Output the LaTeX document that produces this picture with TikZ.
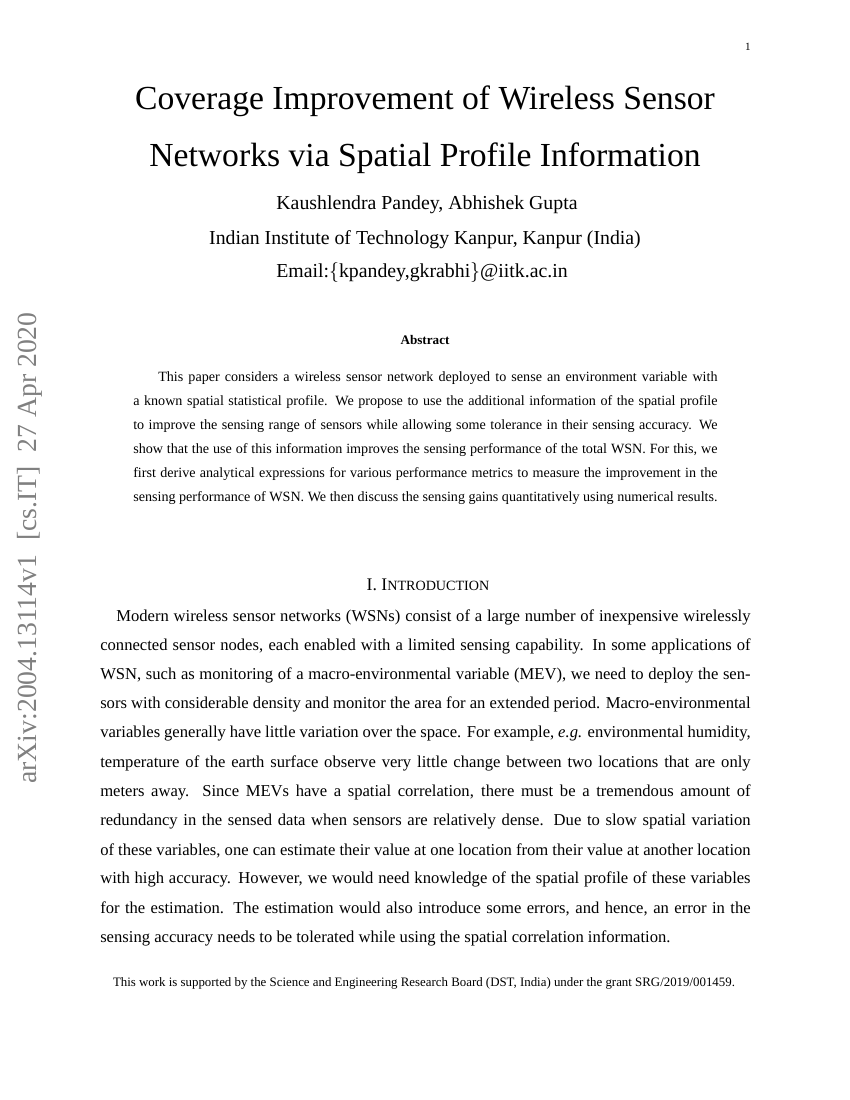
\documentclass[tikz,border=0pt]{standalone}
\usepackage{fontspec}
\setmainfont{Liberation Serif}
\newcommand{\absline}[1]{\makebox[5.84in][s]{#1}}
\newcommand{\bodline}[1]{\makebox[6.5in][s]{#1}}
\begin{document}
\begin{tikzpicture}[x=0.01in,y=-0.01in,
  abs/.style={anchor=west,inner sep=0,font=\fontsize{10.2}{12}\selectfont},
  body/.style={anchor=west,inner sep=0,font=\fontsize{12}{14}\selectfont}]
\useasboundingbox (0,0) rectangle (850,1100);
\node[inner sep=0,font=\fontsize{8}{9}\selectfont] (pg) at (748,47) {1};
\node[inner sep=0,font=\fontsize{24.3}{28}\selectfont] (t1) at (425,101) {Coverage Improvement of Wireless Sensor};
\node[inner sep=0,font=\fontsize{24.3}{28}\selectfont] (t2) at (425,158) {Networks via Spatial Profile Information};
\node[inner sep=0,font=\fontsize{14.3}{16}\selectfont] (au) at (427,205) {Kaushlendra Pandey, Abhishek Gupta};
\node[inner sep=0,font=\fontsize{14.3}{16}\selectfont] (af) at (425,240) {Indian Institute of Technology Kanpur, Kanpur (India)};
\node[inner sep=0,font=\fontsize{14.3}{16}\selectfont] (em) at (422,273) {Email:$\{$kpandey,gkrabhi$\}$@iitk.ac.in};
\node[inner sep=0,font=\bfseries\fontsize{9.5}{11}\selectfont] (ah) at (425,340) {Abstract};
\node[abs] (a1) at (158,378) {\makebox[5.59in][s]{This paper considers a wireless sensor network deployed to sense an environment variable with}};
\node[abs] (a2) at (133,402) {\absline{a known spatial statistical profile. We propose to use the additional information of the spatial profile}};
\node[abs] (a3) at (133,426) {\absline{to improve the sensing range of sensors while allowing some tolerance in their sensing accuracy. We}};
\node[abs] (a4) at (133,450) {\absline{show that the use of this information improves the sensing performance of the total WSN. For this, we}};
\node[abs] (a5) at (133,474) {\absline{first derive analytical expressions for various performance metrics to measure the improvement in the}};
\node[abs] (a6) at (133,498) {\absline{sensing performance of WSN. We then discuss the sensing gains quantitatively using numerical results.}};
\node[inner sep=0,font=\fontsize{12.8}{14}\selectfont] (sec) at (428,585) {I. I{\fontsize{10.2}{11}\selectfont NTRODUCTION}};
\node[body] (b1) at (116,617) {\makebox[6.34in][s]{Modern wireless sensor networks (WSNs) consist of a large number of inexpensive wirelessly}};
\node[body] (b2) at (100,646.2) {\bodline{connected sensor nodes, each enabled with a limited sensing capability. In some applications of}};
\node[body] (b3) at (100,675.4) {\bodline{WSN, such as monitoring of a macro-environmental variable (MEV), we need to deploy the sen-}};
\node[body] (b4) at (100,704.6) {\bodline{sors with considerable density and monitor the area for an extended period. Macro-environmental}};
\node[body] (b5) at (100,733.8) {\bodline{variables generally have little variation over the space. For example, \emph{e.g.} environmental humidity,}};
\node[body] (b6) at (100,763) {\bodline{temperature of the earth surface observe very little change between two locations that are only}};
\node[body] (b7) at (100,792.2) {\bodline{meters away. Since MEVs have a spatial correlation, there must be a tremendous amount of}};
\node[body] (b8) at (100,821.4) {\bodline{redundancy in the sensed data when sensors are relatively dense. Due to slow spatial variation}};
\node[body] (b9) at (100,850.6) {\bodline{of these variables, one can estimate their value at one location from their value at another location}};
\node[body] (b10) at (100,879.8) {\bodline{with high accuracy. However, we would need knowledge of the spatial profile of these variables}};
\node[body] (b11) at (100,909) {\bodline{for the estimation. The estimation would also introduce some errors, and hence, an error in the}};
\node[body] (b12) at (100,938) {sensing accuracy needs to be tolerated while using the spatial correlation information.};
\node[inner sep=0,font=\fontsize{9.3}{11}\selectfont] (fn) at (424,983) {This work is supported by the Science and Engineering Research Board (DST, India) under the grant SRG/2019/001459.};
\node[inner sep=0,rotate=90,text=black!50,font=\fontsize{20}{24}\selectfont] (ax) at (30,548) {arXiv:2004.13114v1\ \ [cs.IT]\ \ 27 Apr 2020};
\end{tikzpicture}
\end{document}
